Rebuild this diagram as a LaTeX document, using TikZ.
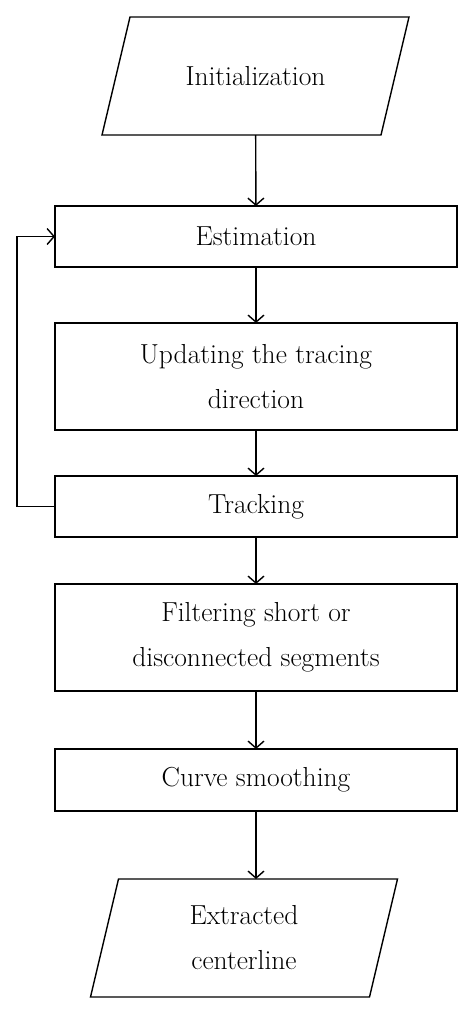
\documentclass[tikz,border=0pt]{standalone}
\usepackage{fontspec}
\usepackage{tikz}
\usetikzlibrary{arrows.meta,positioning}

\begin{document}
\begin{tikzpicture}[x=1pt,y=-1pt,font=\fontsize{27.5}{45}\selectfont,>={Straight Barb[length=7pt,width=16pt]},
  line width=1.4pt,outer sep=0pt,
  stepbox/.style={draw,rectangle,minimum width=402pt,align=center,inner sep=0pt},
  iobox/.style={rectangle,minimum width=279pt,minimum height=118pt,align=center,inner sep=0pt}]
  \useasboundingbox (0,0) rectangle (474,1015);
  \node[iobox] (init) at (255.5,76) {Initialization};
  \node[stepbox,minimum height=61pt,below=71pt of init,xshift=0.5pt] (est) {Estimation};
  \node[stepbox,minimum height=107pt,below=56pt of est] (upd) {Updating the tracing\\direction};
  \node[stepbox,minimum height=61pt,below=46pt of upd] (trk) {Tracking};
  \node[stepbox,minimum height=107pt,below=47pt of trk] (filt) {Filtering short or\\disconnected segments};
  \node[stepbox,minimum height=62pt,below=58pt of filt] (smooth) {Curve smoothing};
  \node[iobox,below=68pt of smooth,xshift=-12pt] (ext) {Extracted\\centerline};

  % slanted input/output boxes
  \foreach \n in {init,ext}
    \draw ([xshift=-14pt]\n.south west) -- ([xshift=-14pt]\n.south east)
      -- ([xshift=14pt]\n.north east) -- ([xshift=14pt]\n.north west) -- cycle;

  \draw[->] (init) -- (est);
  \draw[->] (est) -- (upd);
  \draw[->] (upd) -- (trk);
  \draw[->] (trk) -- (filt);
  \draw[->] (filt) -- (smooth);
  \draw[->] (smooth.south) -- (smooth.south |- ext.north);
  % loop back to estimation
  \draw[->] (trk.west) -- ++(-38pt,0) |- (est.west);
\end{tikzpicture}
\end{document}
